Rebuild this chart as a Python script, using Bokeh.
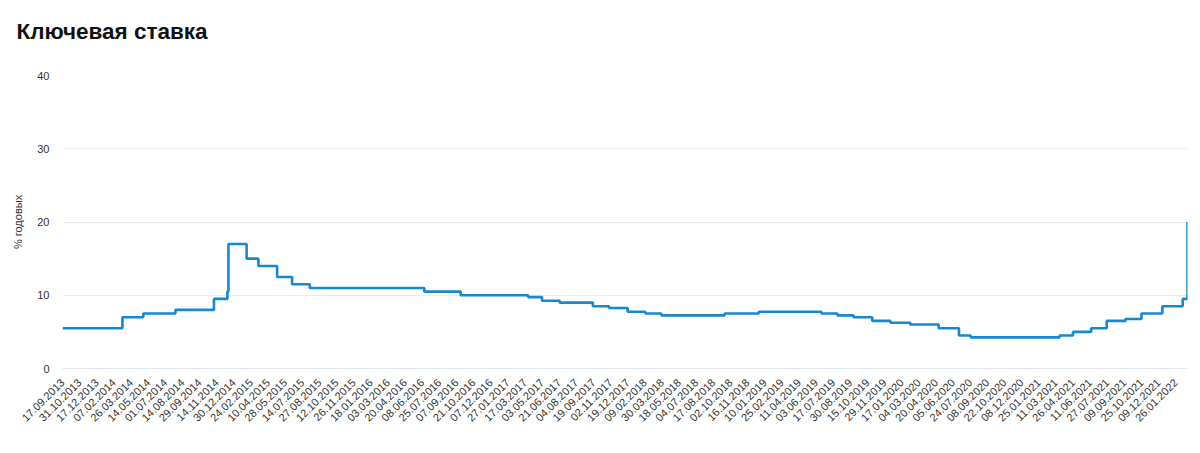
import numpy as np
from math import pi
from bokeh.plotting import figure
from bokeh.models import FixedTicker, Range1d, Title
from bokeh.embed import file_html
from bokeh.resources import INLINE

# Tick labels (every 32 working days)
tick_labels = [
    "17.09.2013", "31.10.2013", "17.12.2013", "07.02.2014", "26.03.2014", "14.05.2014",
    "01.07.2014", "14.08.2014", "29.09.2014", "14.11.2014", "30.12.2014", "24.02.2015",
    "10.04.2015", "28.05.2015", "14.07.2015", "27.08.2015", "12.10.2015", "26.11.2015",
    "18.01.2016", "03.03.2016", "20.04.2016", "08.06.2016", "25.07.2016", "07.09.2016",
    "21.10.2016", "07.12.2016", "27.01.2017", "17.03.2017", "03.05.2017", "21.06.2017",
    "04.08.2017", "19.09.2017", "02.11.2017", "19.12.2017", "09.02.2018", "30.03.2018",
    "18.05.2018", "04.07.2018", "17.08.2018", "02.10.2018", "16.11.2018", "10.01.2019",
    "25.02.2019", "11.04.2019", "03.06.2019", "17.07.2019", "30.08.2019", "15.10.2019",
    "29.11.2019", "17.01.2020", "04.03.2020", "20.04.2020", "05.06.2020", "24.07.2020",
    "08.09.2020", "22.10.2020", "08.12.2020", "25.01.2021", "11.03.2021", "26.04.2021",
    "11.06.2021", "27.07.2021", "09.09.2021", "25.10.2021", "09.12.2021", "26.01.2022",
]
step_days = 32

# Key rate decisions (date the rate took effect, % per year)
rate_dates = [
    "17.09.2013", "03.03.2014", "28.04.2014", "28.07.2014", "05.11.2014", "12.12.2014",
    "16.12.2014", "02.02.2015", "16.03.2015", "05.05.2015", "16.06.2015", "03.08.2015",
    "14.06.2016", "19.09.2016", "27.03.2017", "02.05.2017", "19.06.2017", "18.09.2017",
    "30.10.2017", "18.12.2017", "12.02.2018", "26.03.2018", "17.09.2018", "17.12.2018",
    "17.06.2019", "29.07.2019", "09.09.2019", "28.10.2019", "16.12.2019", "10.02.2020",
    "27.04.2020", "22.06.2020", "27.07.2020", "22.03.2021", "26.04.2021", "15.06.2021",
    "26.07.2021", "13.09.2021", "25.10.2021", "20.12.2021", "14.02.2022", "28.02.2022",
]
rate_values = [
    5.5, 7.0, 7.5, 8.0, 9.5, 10.5,
    17.0, 15.0, 14.0, 12.5, 11.5, 11.0,
    10.5, 10.0, 9.75, 9.25, 9.0, 8.5,
    8.25, 7.75, 7.5, 7.25, 7.5, 7.75,
    7.5, 7.25, 7.0, 6.5, 6.25, 6.0,
    5.5, 4.5, 4.25, 4.5, 5.0, 5.5,
    6.5, 6.75, 7.5, 8.5, 9.5, 20.0,
]
holidays = ["2022-02-23"]
title_text = "Ключевая ставка"


def iso(d):
    dd, mm, yy = d.split(".")
    return f"{yy}-{mm}-{dd}"


anchors = np.array([iso(t) for t in tick_labels], dtype="datetime64[D]")


def work_index(d):
    dt = np.datetime64(iso(d), "D")
    k = int(np.searchsorted(anchors, dt, side="right")) - 1
    k = max(k, 0)
    return k * step_days + int(np.busday_count(anchors[k], dt, holidays=holidays))


xs = [work_index(d) for d in rate_dates]
last_x = xs[-1]

p = figure(width=1192, height=445, output_backend="svg", toolbar_location=None,
           x_range=Range1d(0, last_x), y_range=Range1d(0, 40),
           min_border_left=62, min_border_right=5, min_border_bottom=77, min_border_top=75)
p.outline_line_color = None
p.title.text = ""

# spacer between the title and the plot area, then the title itself
p.add_layout(Title(text=" ", text_font_size="1px", standoff=24), "above")
p.add_layout(Title(text=title_text, text_font="Liberation Sans", text_font_size="22.5px",
                   text_font_style="bold", text_color="#111111", align="left",
                   offset=-46, standoff=10), "above")

p.step(xs, rate_values, mode="after", line_color="#1787cf", line_width=2.6)

tick_pos = [i * step_days for i in range(len(tick_labels))]
p.xaxis.ticker = FixedTicker(ticks=tick_pos)
p.xaxis.major_label_overrides = {tp: lab for tp, lab in zip(tick_pos, tick_labels)}
p.xaxis.major_label_orientation = pi / 4
p.xaxis.major_tick_line_color = None
p.xaxis.major_tick_out = 0
p.xaxis.minor_tick_line_color = None
p.xaxis.minor_tick_out = 0
p.xaxis.axis_line_color = "#e0e6f1"
p.xaxis.major_label_standoff = 12
p.xaxis.major_label_text_font = "Liberation Sans"
p.xaxis.major_label_text_font_size = "11px"
p.xaxis.major_label_text_color = "#333333"

p.yaxis.ticker = FixedTicker(ticks=[0, 10, 20, 30, 40])
p.yaxis.axis_line_color = None
p.yaxis.major_tick_line_color = None
p.yaxis.major_tick_out = 0
p.yaxis.minor_tick_line_color = None
p.yaxis.minor_tick_out = 0
p.yaxis.major_label_standoff = 13
p.yaxis.major_label_text_font = "Liberation Sans"
p.yaxis.major_label_text_font_size = "11px"
p.yaxis.major_label_text_color = "#333333"
p.yaxis.axis_label = "% годовых"
p.yaxis.axis_label_text_font = "Liberation Sans"
p.yaxis.axis_label_text_font_size = "11px"
p.yaxis.axis_label_text_font_style = "normal"
p.yaxis.axis_label_text_color = "#333333"
p.yaxis.axis_label_standoff = 10

p.xgrid.grid_line_color = None
p.ygrid.grid_line_color = "#ececec"
p.ygrid.grid_line_width = 1

open("out.html", "w").write(file_html(p, INLINE))
